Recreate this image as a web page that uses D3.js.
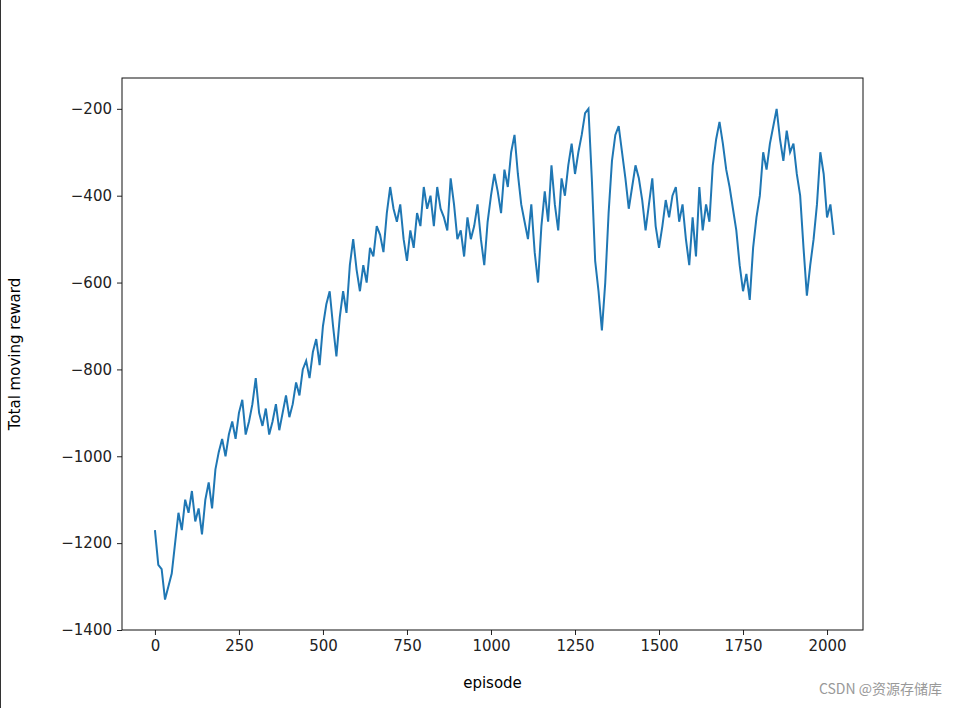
<!DOCTYPE html>
<html><head><meta charset="utf-8">
<script src="https://cdn.jsdelivr.net/npm/d3@7"></script>
<style>body{margin:0;background:#fff}</style>
</head><body>
<svg id="chart" width="957" height="708"></svg>
<script>
const episodes = d3.range(0, 2030, 10)
const rewards = [
  -1170,-1250,-1260,-1330,-1300,-1270,-1200,-1130,-1170,-1100,
  -1130,-1080,-1150,-1120,-1180,-1100,-1060,-1120,-1030,-990,
  -960,-1000,-950,-920,-960,-900,-870,-950,-920,-880,
  -820,-900,-930,-890,-950,-920,-880,-940,-900,-860,
  -910,-880,-830,-860,-800,-780,-820,-760,-730,-790,
  -700,-650,-620,-700,-770,-680,-620,-670,-560,-500,
  -570,-620,-560,-600,-520,-540,-470,-490,-530,-440,
  -380,-430,-460,-420,-500,-550,-480,-520,-440,-470,
  -380,-430,-400,-470,-380,-430,-450,-480,-360,-420,
  -500,-480,-540,-450,-500,-470,-420,-500,-560,-460,
  -400,-350,-390,-440,-340,-380,-300,-260,-350,-420,
  -460,-500,-420,-530,-600,-470,-390,-460,-330,-420,
  -480,-360,-400,-330,-280,-350,-300,-260,-210,-200,
  -360,-550,-620,-710,-600,-440,-320,-260,-240,-300,
  -360,-430,-380,-330,-360,-410,-480,-420,-360,-470,
  -520,-470,-410,-450,-400,-380,-460,-420,-500,-560,
  -450,-540,-380,-480,-420,-460,-330,-270,-230,-280,
  -340,-380,-430,-480,-560,-620,-580,-640,-520,-450,
  -400,-300,-340,-280,-240,-200,-270,-320,-250,-300,
  -280,-350,-400,-520,-630,-560,-500,-420,-300,-350,
  -450,-420,-490
]
const xTicks = [0, 250, 500, 750, 1000, 1250, 1500, 1750, 2000]
const yTicks = [-1400, -1200, -1000, -800, -600, -400, -200]

const svg = d3.select('#chart')
const m = { left: 122, right: 863, top: 78, bottom: 630 }
const x = d3.scaleLinear().domain([-98, 2107]).range([m.left, m.right])
const y = d3.scaleLinear().domain([-1400, -129]).range([m.bottom, m.top])

svg.append('line').attr('x1', 0.5).attr('x2', 0.5).attr('y1', 0).attr('y2', 708).attr('stroke', '#333')

const font = 'DejaVu Sans, sans-serif'
const xa = svg.append('g').attr('transform', `translate(0,${m.bottom})`)
  .call(d3.axisBottom(x).tickValues(xTicks).tickSize(5).tickPadding(5).tickFormat(d3.format('d')))
const ya = svg.append('g').attr('transform', `translate(${m.left},0)`)
  .call(d3.axisLeft(y).tickValues(yTicks).tickSize(5).tickPadding(5).tickFormat((d) => '\u2212' + Math.abs(d)))
for (const a of [xa, ya]) {
  a.select('.domain').remove()
  a.selectAll('text').attr('font-family', font).attr('font-size', 15).attr('fill', '#222')
  a.selectAll('line').attr('stroke', '#222')
}

svg.append('path')
  .datum(episodes.map((e, i) => [e, rewards[i]]))
  .attr('fill', 'none').attr('stroke', '#1f77b4').attr('stroke-width', 2)
  .attr('d', d3.line().x((d) => x(d[0])).y((d) => y(d[1])))

svg.append('rect').attr('x', m.left).attr('y', m.top)
  .attr('width', m.right - m.left).attr('height', m.bottom - m.top)
  .attr('fill', 'none').attr('stroke', '#111')

svg.append('text').attr('x', (m.left + m.right) / 2).attr('y', 688)
  .attr('text-anchor', 'middle').attr('font-family', font).attr('font-size', 15).text('episode')
svg.append('text').attr('transform', `translate(20,${(m.top + m.bottom) / 2}) rotate(-90)`)
  .attr('text-anchor', 'middle').attr('font-family', font).attr('font-size', 15).text('Total moving reward')
svg.append('text').attr('x', 942).attr('y', 694).attr('text-anchor', 'end')
  .attr('font-family', 'Noto Sans CJK SC, sans-serif').attr('font-size', 14).attr('fill', '#999').text('CSDN @资源存储库')
</script>
</body></html>
